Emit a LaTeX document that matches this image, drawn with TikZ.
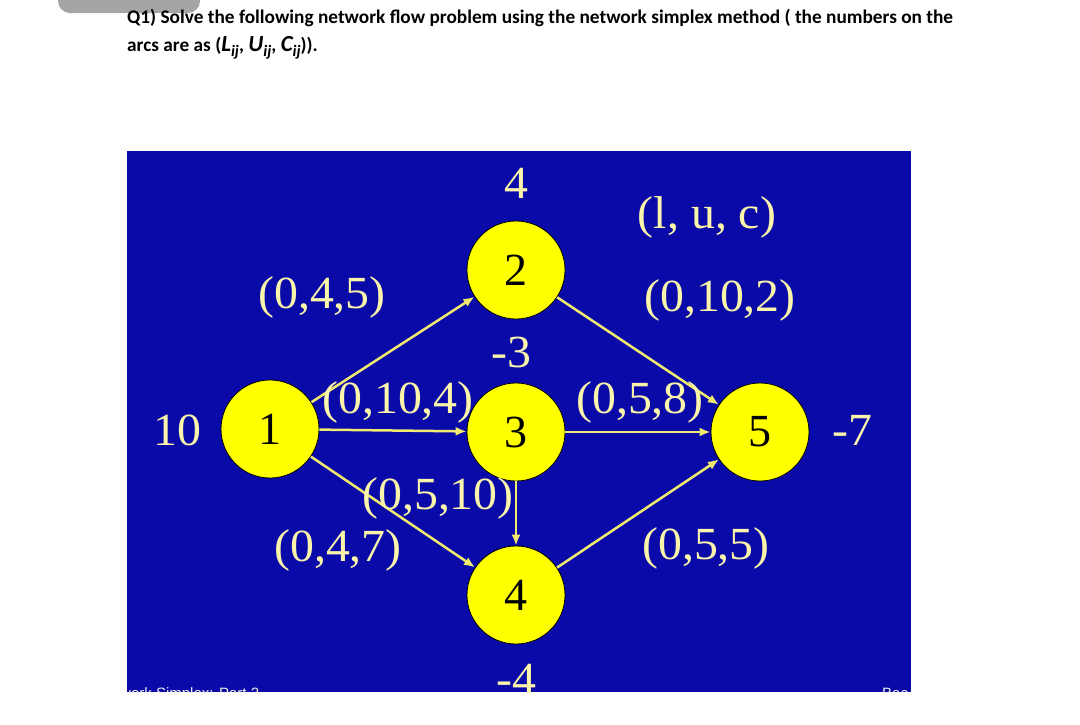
\documentclass[tikz,border=0pt]{standalone}
\usepackage{fontspec}
\setmainfont{Liberation Serif}
\newfontfamily\hdr{Carlito}
\newfontfamily\slidesans{Liberation Sans}
\usetikzlibrary{arrows.meta}
\definecolor{slideblue}{RGB}{10,10,168}
\definecolor{nodeyellow}{RGB}{255,255,0}
\definecolor{labelyellow}{RGB}{250,245,170}
\definecolor{edgeyellow}{RGB}{240,235,110}
\definecolor{tabgray}{RGB}{165,165,165}
\newcommand{\varsub}[2]{{\itshape\fontsize{23}{26}\selectfont #1\raisebox{-0.22em}{\fontsize{16}{18}\selectfont #2}}}
\tikzset{
  vert/.style={circle, fill=nodeyellow, draw=black, line width=0.8pt, minimum size=98pt,
    inner sep=0pt, font=\fontsize{46}{50}\selectfont, text=black},
  lab/.style={text=labelyellow, font=\fontsize{46}{50}\selectfont, inner sep=0pt, xscale=1.04},
  arc/.style={draw=edgeyellow, line width=2.5pt, -{Latex[length=11pt,width=9pt]}},
  hdrtext/.style={anchor=base west, inner sep=0pt, font=\hdr\bfseries\fontsize{19.3}{22}\selectfont},
  foot/.style={anchor=base west, inner sep=0pt, text=white!85!gray, font=\slidesans\fontsize{15}{18}\selectfont},
}
\begin{document}
\begin{tikzpicture}[x=1pt,y=-1pt]
\useasboundingbox (0,0) rectangle (1080,724);
\fill[white] (0,0) rectangle (1080,724);
\fill[tabgray, rounded corners=12pt] (58,-20) rectangle (200,13);
\node[hdrtext] (h1) at (127,23) {Q1) Solve the following network flow problem using the network simplex method ( the numbers on the};
\node[hdrtext] (h2) at (127,51) {arcs are as (\varsub{L}{ij}, \varsub{U}{ij}, \varsub{C}{ij})).};
\fill[slideblue] (127,151) rectangle (911,692);
\node[vert] (n1) at (270,429) {1};
\node[vert] (n2) at (516,270) {2};
\node[vert] (n3) at (516,432) {3};
\node[vert] (n4) at (516,595) {4};
\node[vert] (n5) at (760,432) {5};
\draw[arc] (n1) -- (n2);
\draw[arc] (n2) -- (n5);
\draw[arc] (n1) -- (n3);
\draw[arc] (n3) -- (n5);
\draw[arc] (n1) -- (n4);
\draw[arc] (n3) -- (n4);
\draw[arc] (n4) -- (n5);
\node[lab] (s2) at (516,183) {4};
\node[lab] (luc) at (707,217) {(l, u, c)};
\node[lab] (l12) at (322,297) {(0,4,5)};
\node[lab] (l25) at (720,300) {(0,10,2)};
\node[lab] (s3) at (511,352) {-3};
\node[lab] (l13) at (398,402) {(0,10,4)};
\node[lab] (l35) at (640,402) {(0,5,8)};
\node[lab] (s1) at (177,430) {10};
\node[lab] (s5) at (852,430) {-7};
\node[lab] (l34) at (438,498) {(0,5,10)};
\node[lab] (l14) at (338,550) {(0,4,7)};
\node[lab] (l45) at (706,548) {(0,5,5)};
\begin{scope}
  \clip (127,151) rectangle (911,692);
  \node[lab] (s4) at (516,679) {-4};
  \node[foot] (f1) at (120,698) {work Simplex: Part 2};
  \node[foot] (f2) at (882,698) {Bac};
\end{scope}
\end{tikzpicture}
\end{document}
